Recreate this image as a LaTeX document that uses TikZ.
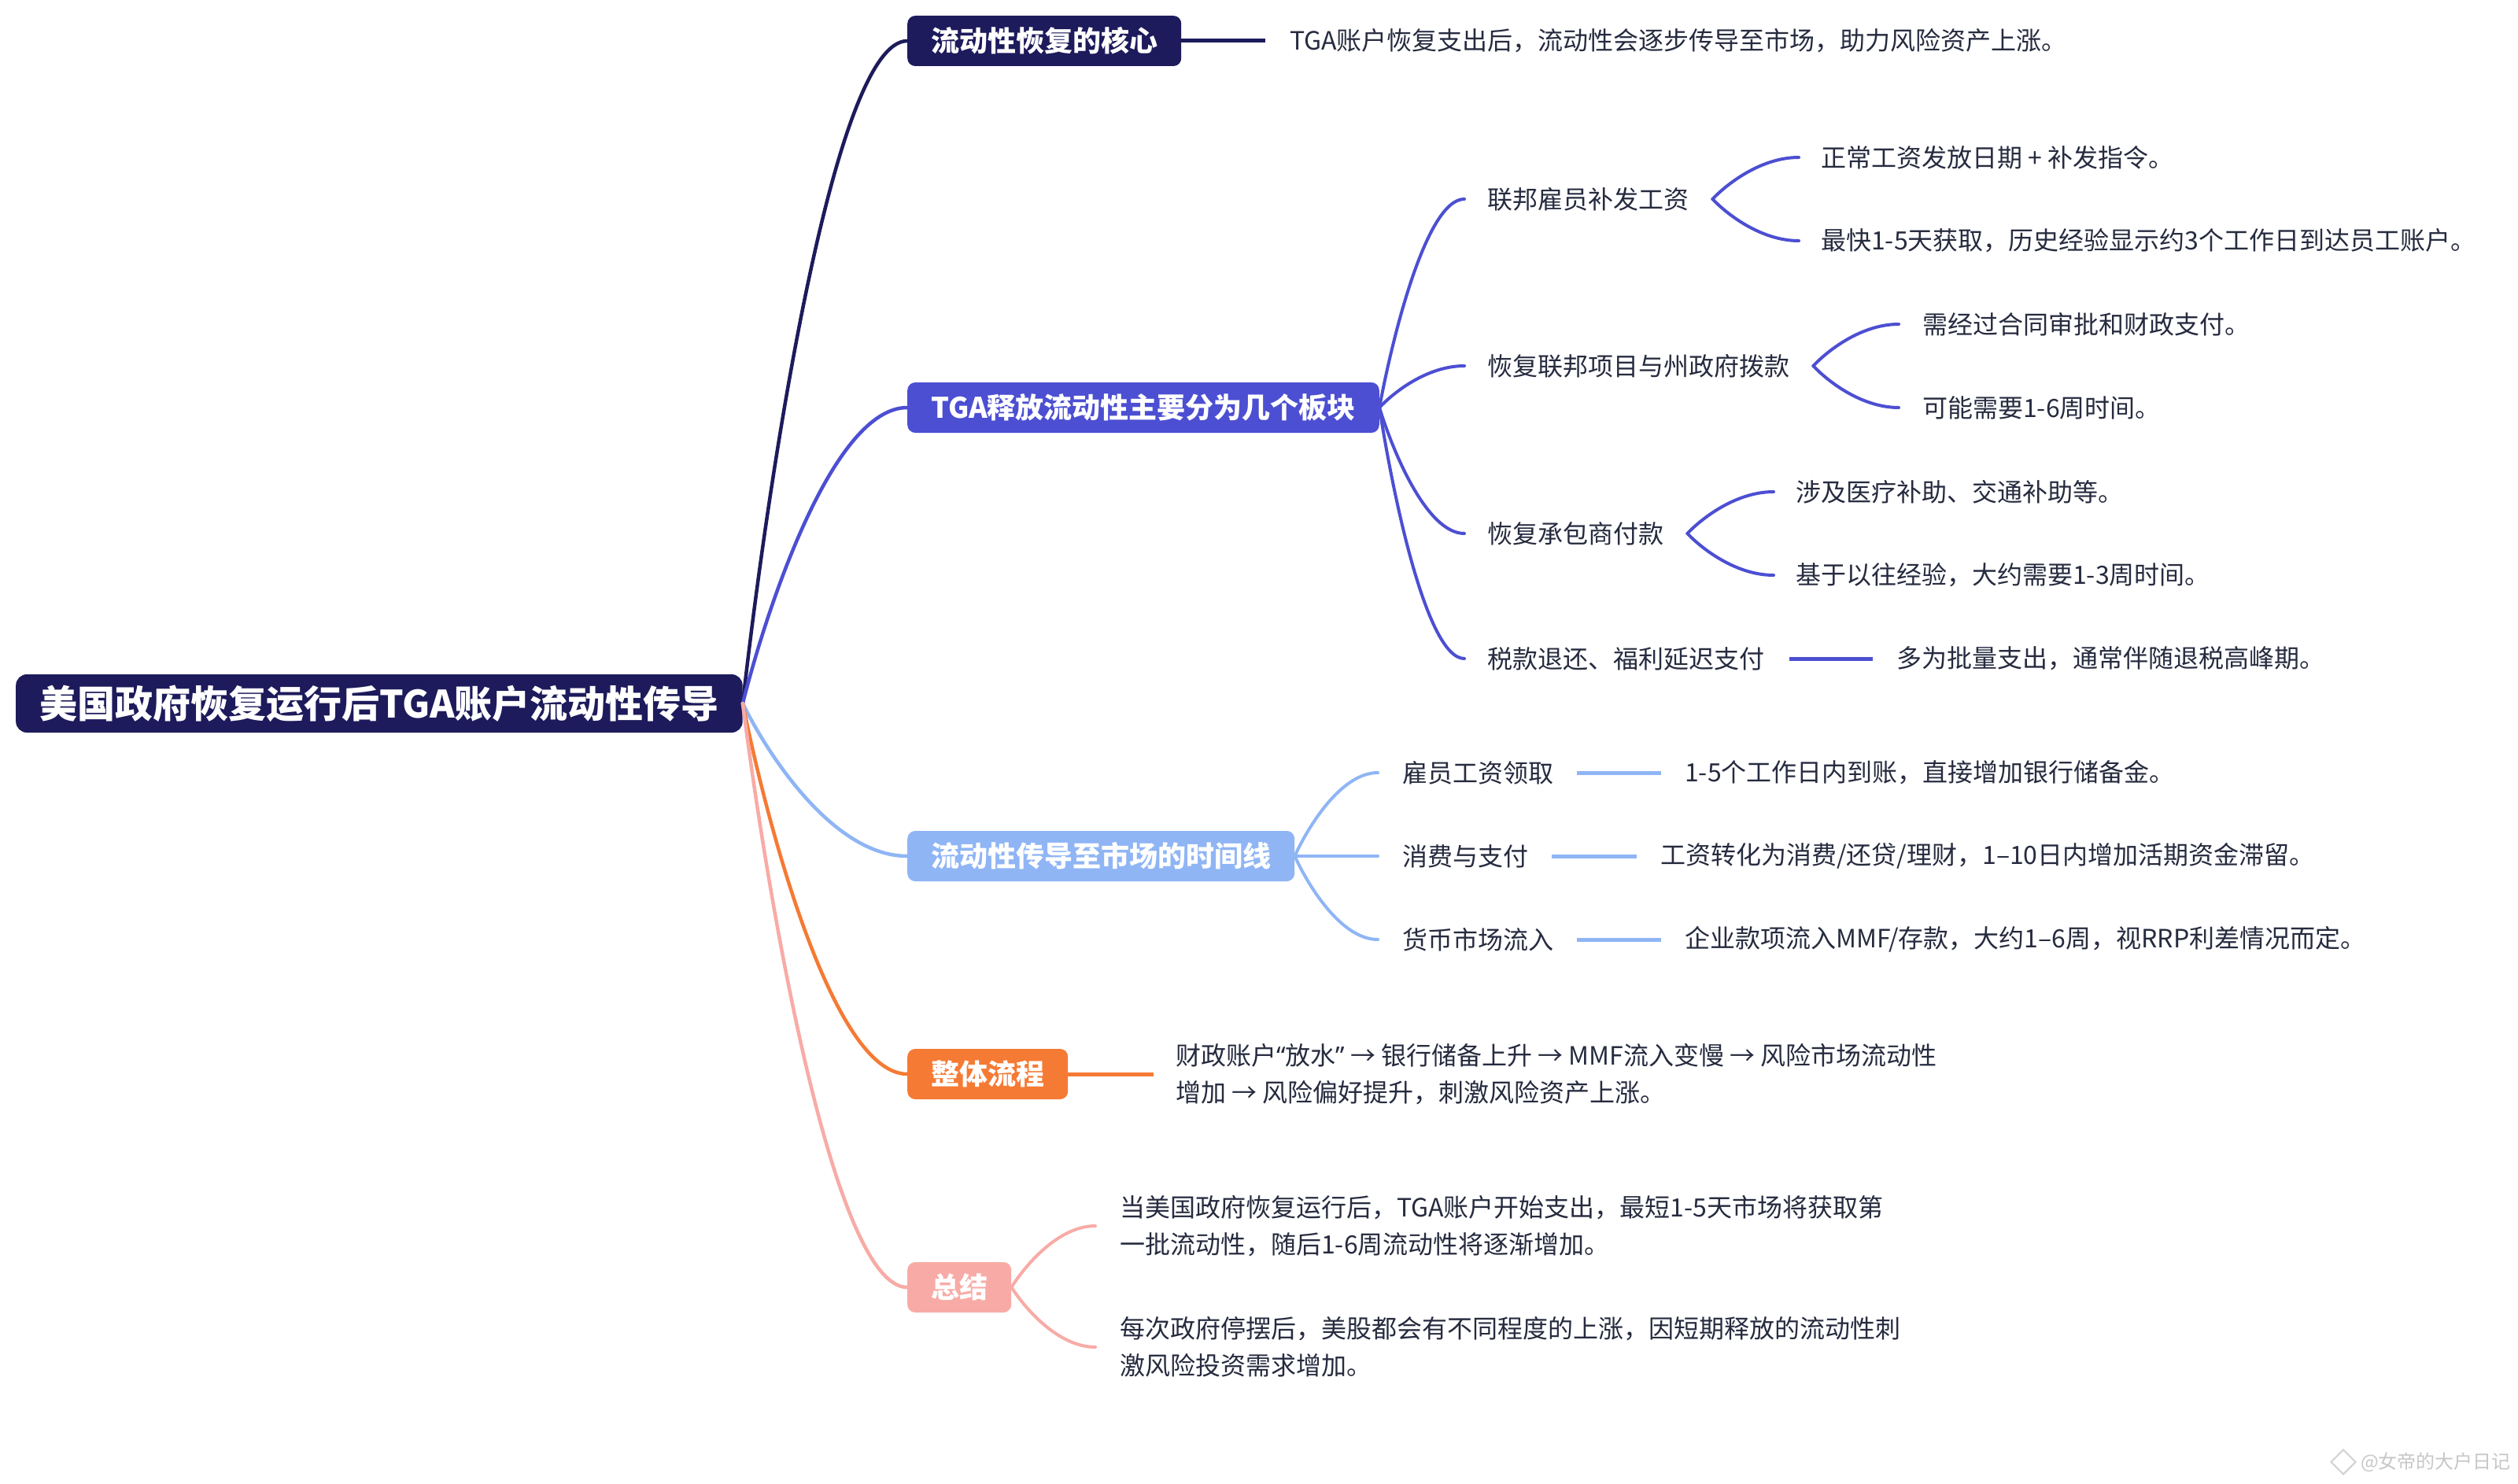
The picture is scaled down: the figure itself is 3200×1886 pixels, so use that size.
\documentclass[tikz,border=0pt]{standalone}
\usepackage{fontspec}
\setmainfont{Noto Sans CJK SC}
\newfontfamily\latinq{Noto Sans}
\usetikzlibrary{calc}
\definecolor{navy}{HTML}{1D1B5B}
\definecolor{indigo}{HTML}{4C4FD2}
\definecolor{lblue}{HTML}{8FB5F5}
\definecolor{orng}{HTML}{F57A34}
\definecolor{pnk}{HTML}{F8ABA6}
\definecolor{ink}{HTML}{262B3F}
\begin{document}
\begin{tikzpicture}[x=1pt,y=-1pt,
  rootbox/.style={rounded corners=14pt, fill=navy, text=white, anchor=west, inner xsep=30pt, inner ysep=0pt, minimum height=74pt, font=\fontsize{48}{52}\selectfont\bfseries},
  box/.style={rounded corners=10pt, text=white, anchor=west, inner xsep=30pt, inner ysep=0pt, minimum height=64pt, font=\fontsize{36}{40}\selectfont\bfseries},
  txt/.style={inner sep=0pt, anchor=west, text=ink, align=left, font=\fontsize{32}{47}\selectfont},
  conn/.style={line width=4pt, line cap=round},
  rconn/.style={line width=4.5pt, line cap=round},
  sline/.style={line width=5pt},
  mm/.style={to path={let \p1=(\tikztostart), \p2=(\tikztotarget) in
     .. controls ({\x1+0.15*(\x2-\x1)},{\y1+0.33*(\y2-\y1)}) and ({\x1+0.55*(\x2-\x1)},{\y2}) .. (\tikztotarget)}}
]
\useasboundingbox (0,0) rectangle (3200,1886);
\fill[white] (0,0) rectangle (3200,1886);

% root
\node[rootbox] (root) at (20,894) {美国政府恢复运行后TGA账户流动性传导};

% level 1
\node[box, fill=navy] (c1) at (1153,52) {流动性恢复的核心};
\node[box, fill=indigo] (c2) at (1153,518) {TGA释放流动性主要分为几个板块};
\node[box, fill=lblue] (c3) at (1153,1088) {流动性传导至市场的时间线};
\node[box, fill=orng] (c4) at (1153,1365) {整体流程};
\node[box, fill=pnk] (c5) at (1153,1636) {总结};

% root connectors
\draw[rconn, navy] (root.east) to[mm] (c1.west);
\draw[rconn, indigo] (root.east) to[mm] (c2.west);
\draw[rconn, lblue] (root.east) to[mm] (c3.west);
\draw[rconn, orng] (root.east) to[mm] (c4.west);
\draw[rconn, pnk] (root.east) to[mm] (c5.west);

% branch 1
\node[txt] (c1a) at (1639,52) {TGA账户恢复支出后，流动性会逐步传导至市场，助力风险资产上涨。};
\draw[sline, navy] (c1.east) -- ([xshift=-31pt]c1a.west);

% branch 2
\node[txt] (c2a) at (1890,253) {联邦雇员补发工资};
\node[txt] (c2a1) at (2314,200) {正常工资发放日期 + 补发指令。};
\node[txt] (c2a2) at (2314,306) {最快1-5天获取，历史经验显示约3个工作日到达员工账户。};
\node[txt] (c2b) at (1890,465) {恢复联邦项目与州政府拨款};
\node[txt] (c2b1) at (2443,412) {需经过合同审批和财政支付。};
\node[txt] (c2b2) at (2443,518) {可能需要1-6周时间。};
\node[txt] (c2c) at (1890,678) {恢复承包商付款};
\node[txt] (c2c1) at (2282,625) {涉及医疗补助、交通补助等。};
\node[txt] (c2c2) at (2282,731) {基于以往经验，大约需要1-3周时间。};
\node[txt] (c2d) at (1890,837) {税款退还、福利延迟支付};
\node[txt] (c2d1) at (2410,837) {多为批量支出，通常伴随退税高峰期。};

\draw[conn, indigo] (c2.east) to[mm] ([xshift=-29pt]c2a.west);
\draw[conn, indigo] (c2.east) to[mm] ([xshift=-29pt]c2b.west);
\draw[conn, indigo] (c2.east) to[mm] ([xshift=-29pt]c2c.west);
\draw[conn, indigo] (c2.east) to[mm] ([xshift=-29pt]c2d.west);
\draw[conn, indigo] ([xshift=30pt]c2a.east) to[mm] ([xshift=-28pt]c2a1.west);
\draw[conn, indigo] ([xshift=30pt]c2a.east) to[mm] ([xshift=-28pt]c2a2.west);
\draw[conn, indigo] ([xshift=30pt]c2b.east) to[mm] ([xshift=-30pt]c2b1.west);
\draw[conn, indigo] ([xshift=30pt]c2b.east) to[mm] ([xshift=-30pt]c2b2.west);
\draw[conn, indigo] ([xshift=30pt]c2c.east) to[mm] ([xshift=-28pt]c2c1.west);
\draw[conn, indigo] ([xshift=30pt]c2c.east) to[mm] ([xshift=-28pt]c2c2.west);
\draw[sline, indigo] ([xshift=32pt]c2d.east) -- ([xshift=-30pt]c2d1.west);

% branch 3
\node[txt] (c3a) at (1782,982) {雇员工资领取};
\node[txt] (c3a1) at (2141,982) {1-5个工作日内到账，直接增加银行储备金。};
\node[txt] (c3b) at (1782,1088) {消费与支付};
\node[txt] (c3b1) at (2110,1088) {工资转化为消费/还贷/理财，1–10日内增加活期资金滞留。};
\node[txt] (c3c) at (1782,1194) {货币市场流入};
\node[txt] (c3c1) at (2141,1194) {企业款项流入MMF/存款，大约1–6周，视RRP利差情况而定。};
\draw[conn, lblue] (c3.east) to[mm] ([xshift=-31pt]c3a.west);
\draw[conn, lblue] (c3.east) -- ([xshift=-31pt]c3b.west);
\draw[conn, lblue] (c3.east) to[mm] ([xshift=-31pt]c3c.west);
\draw[sline, lblue] ([xshift=30pt]c3a.east) -- ([xshift=-30pt]c3a1.west);
\draw[sline, lblue] ([xshift=30pt]c3b.east) -- ([xshift=-30pt]c3b1.west);
\draw[sline, lblue] ([xshift=30pt]c3c.east) -- ([xshift=-30pt]c3c1.west);

% branch 4
\node[txt] (c4a) at (1494,1365) {财政账户{\latinq “}放水{\latinq ”} → 银行储备上升 → MMF流入变慢 → 风险市场流动性\\增加 → 风险偏好提升，刺激风险资产上涨。};
\draw[sline, orng] (c4.east) -- ([xshift=-28pt]c4a.west);

% branch 5
\node[txt] (c5a) at (1423,1558) {当美国政府恢复运行后，TGA账户开始支出，最短1-5天市场将获取第\\一批流动性，随后1-6周流动性将逐渐增加。};
\node[txt] (c5b) at (1423,1712) {每次政府停摆后，美股都会有不同程度的上涨，因短期释放的流动性刺\\激风险投资需求增加。};
\draw[conn, pnk] (c5.east) to[mm] ([xshift=-31pt]c5a.west);
\draw[conn, pnk] (c5.east) to[mm] ([xshift=-31pt]c5b.west);

% watermark
\node[draw=black!18, line width=2pt, inner sep=0pt, rotate=45, minimum width=22pt, minimum height=22pt] (wmicon) at (2978,1858) {};
\node[inner sep=0pt, anchor=west, text=black!22, font=\fontsize{24}{28}\selectfont] (wm) at (3000,1858) {@女帝的大户日记};
\end{tikzpicture}
\end{document}
